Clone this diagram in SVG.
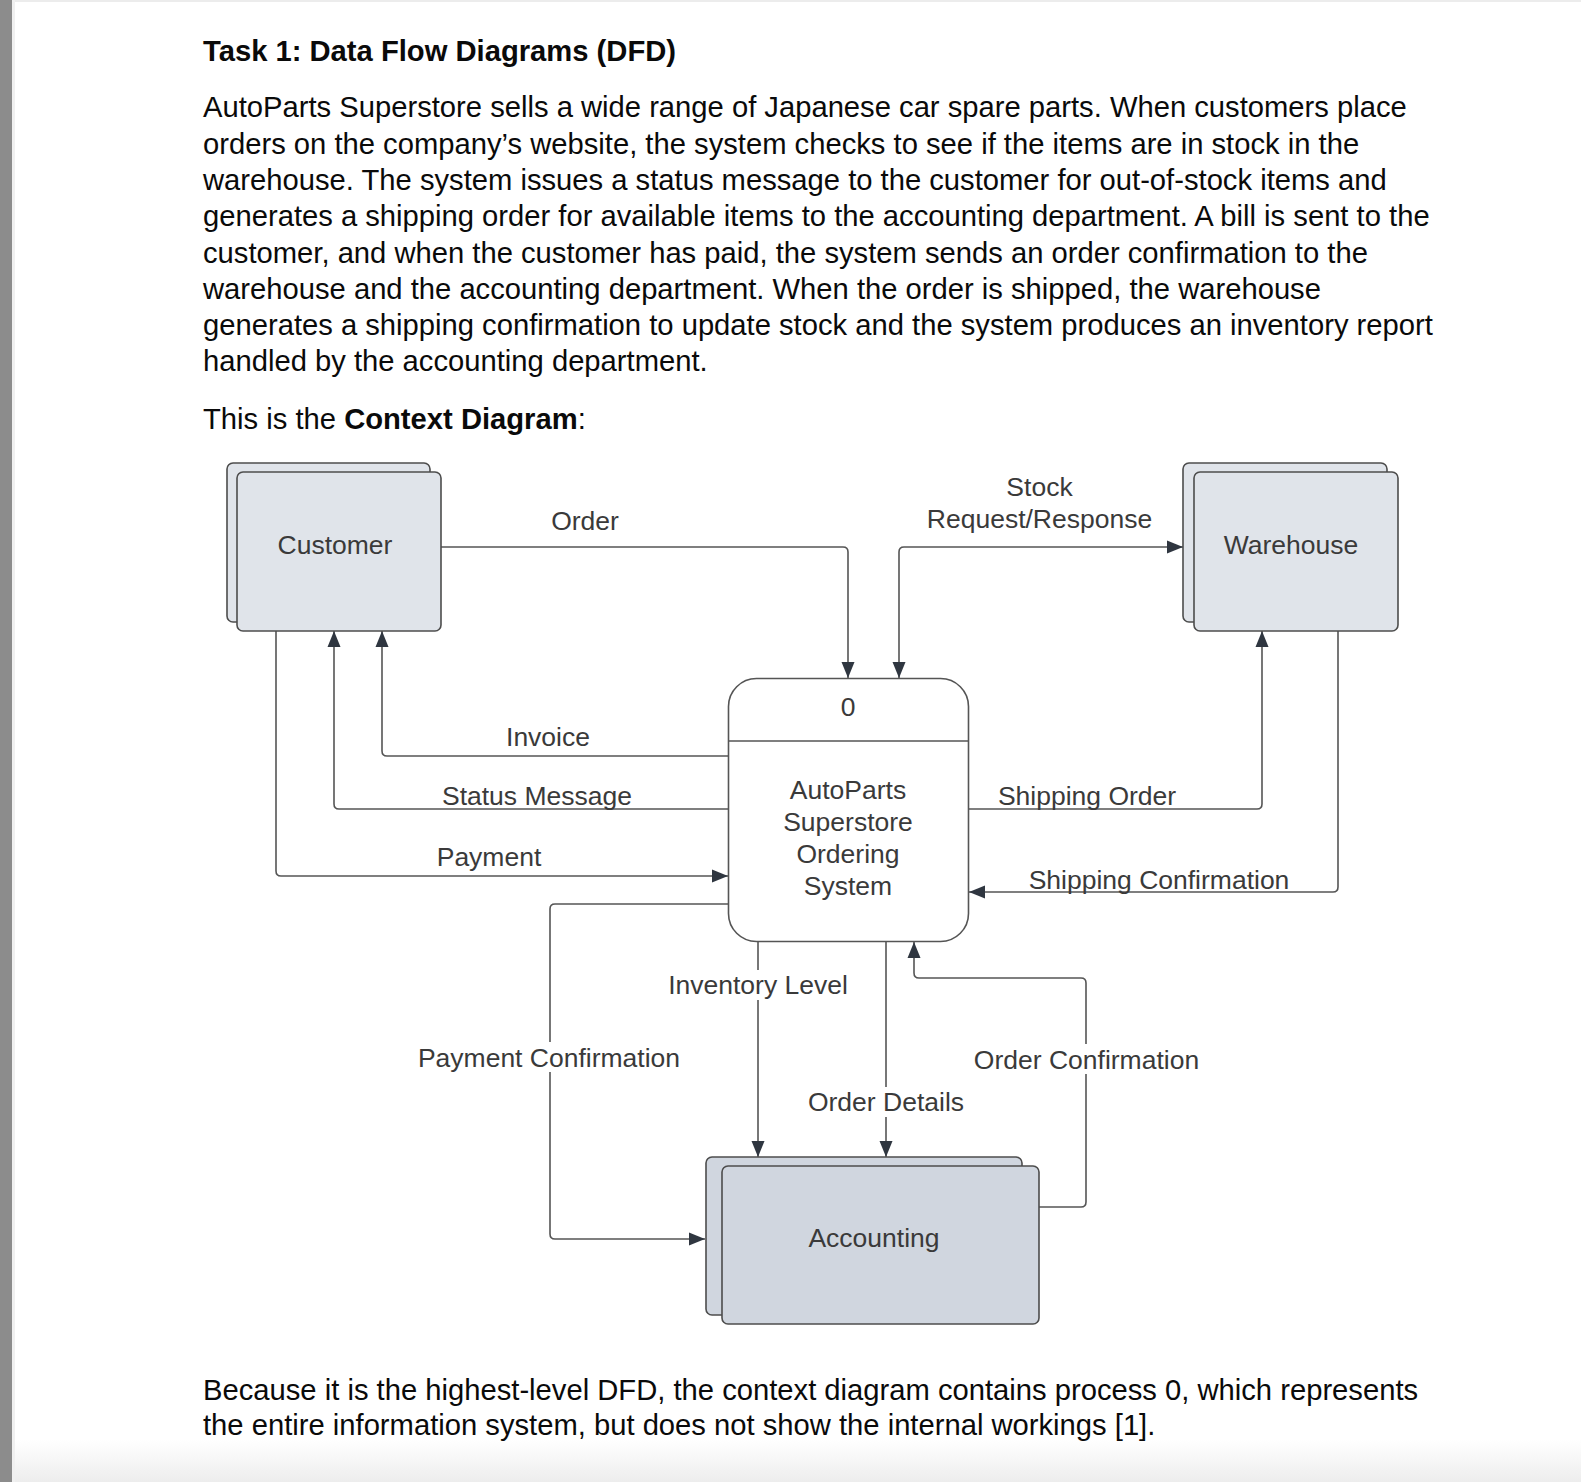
<svg xmlns="http://www.w3.org/2000/svg" width="1581" height="1482" viewBox="0 0 1581 1482">
<style>
.doc{font-family:"Liberation Sans",Arial,Helvetica,sans-serif;font-size:29.2px;fill:#0a0a0a}
.b{font-weight:bold}
.lbl{font-family:"Liberation Sans",Arial,Helvetica,sans-serif;font-size:26.5px;fill:#3a3a3a;text-anchor:middle}
.ent{fill:#e0e4ea;stroke:#4d4d4d;stroke-width:1.6}
.acc{fill:#d0d6df;stroke:#4d4d4d;stroke-width:1.6}
.proc{fill:#ffffff;stroke:#555;stroke-width:1.6}
.flow{fill:none;stroke:#555;stroke-width:1.6}
.arr{marker-end:url(#ah)}
.gap{fill:#fff}
</style>
<defs>
<marker id="ah" markerUnits="userSpaceOnUse" markerWidth="17" markerHeight="14" refX="16" refY="7" orient="auto-start-reverse" viewBox="0 0 17 14">
<path d="M0,0.5 L16,7 L0,13.5 z" fill="#2f3640"/>
</marker>
<linearGradient id="bot" x1="0" y1="0" x2="0" y2="1">
<stop offset="0" stop-color="#ffffff"/>
<stop offset="1" stop-color="#ededed"/>
</linearGradient>
</defs>
<rect width="1581" height="1482" fill="#ffffff"/>
<rect x="0" y="1440" width="1581" height="42" fill="url(#bot)"/>
<rect x="0" y="0" width="1581" height="2" fill="#ececec"/>
<rect x="12" y="0" width="3" height="1482" fill="#f0f0f0"/>
<rect x="0" y="0" width="12" height="1482" fill="#8c8c8c"/>

<g id="document-text" class="doc">
<text x="203" y="61" class="b">Task 1: Data Flow Diagrams (DFD)</text>
<text x="203" y="117.3">AutoParts Superstore sells a wide range of Japanese car spare parts. When customers place</text>
<text x="203" y="153.6">orders on the company’s website, the system checks to see if the items are in stock in the</text>
<text x="203" y="189.9">warehouse. The system issues a status message to the customer for out-of-stock items and</text>
<text x="203" y="226.2">generates a shipping order for available items to the accounting department. A bill is sent to the</text>
<text x="203" y="262.5">customer, and when the customer has paid, the system sends an order confirmation to the</text>
<text x="203" y="298.8">warehouse and the accounting department. When the order is shipped, the warehouse</text>
<text x="203" y="335.1">generates a shipping confirmation to update stock and the system produces an inventory report</text>
<text x="203" y="371.4">handled by the accounting department.</text>
<text x="203" y="428.8">This is the <tspan class="b">Context Diagram</tspan>:</text>
<text x="203" y="1399.8">Because it is the highest-level DFD, the context diagram contains process 0, which represents</text>
<text x="203" y="1435.1">the entire information system, but does not show the internal workings [1].</text>
</g>

<g id="connectors">
<path id="f-order" class="flow arr" d="M441,547 H843 Q848,547 848,552 V678"/>
<path id="f-stock" class="flow arr" style="marker-start:url(#ah)" d="M899,678 V552 Q899,547 904,547 H1183"/>
<path id="f-invoice" class="flow arr" d="M728,756 H387 Q382,756 382,751 V631"/>
<path id="f-status" class="flow arr" d="M728,809 H339 Q334,809 334,804 V631"/>
<path id="f-payment" class="flow arr" d="M276,631 V871 Q276,876 281,876 H728"/>
<path id="f-payconf" class="flow arr" d="M728,904 H555 Q550,904 550,909 V1234 Q550,1239 555,1239 H705"/>
<path id="f-invlevel" class="flow arr" d="M758,942 V1157"/>
<path id="f-orderdetails" class="flow arr" d="M886,942 V1157"/>
<path id="f-orderconf" class="flow arr" d="M1039,1207 H1081 Q1086,1207 1086,1202 V983 Q1086,978 1081,978 H919 Q914,978 914,973 V942"/>
<path id="f-shiporder" class="flow arr" d="M968,809 H1257 Q1262,809 1262,804 V631"/>
<path id="f-shipconf" class="flow arr" d="M1338,631 V887 Q1338,892 1333,892 H969"/>

<rect class="gap" x="685" y="970" width="146" height="30"/>
<rect class="gap" x="418" y="1042" width="263" height="30"/>
<rect class="gap" x="810" y="1087" width="152" height="30"/>
<rect class="gap" x="972" y="1044" width="229" height="30"/>

<g class="lbl">
<text x="585" y="529.5">Order</text>
<text x="1039.5" y="495.5">Stock</text>
<text x="1039.5" y="527.5">Request/Response</text>
<text x="548" y="745.5">Invoice</text>
<text x="537" y="804.5">Status Message</text>
<text x="489" y="865.5">Payment</text>
<text x="1087" y="804.5">Shipping Order</text>
<text x="1159" y="888.5">Shipping Confirmation</text>
<text x="758" y="994">Inventory Level</text>
<text x="549" y="1066.5">Payment Confirmation</text>
<text x="886" y="1110.5">Order Details</text>
<text x="1086.5" y="1068.5">Order Confirmation</text>
</g>
</g>

<g id="customer">
<rect class="ent" x="227" y="463" width="203" height="159" rx="6"/>
<rect class="ent" x="237" y="472" width="204" height="159" rx="6"/>
<text class="lbl" x="335" y="553.5">Customer</text>
</g>

<g id="warehouse">
<rect class="ent" x="1183" y="463" width="204" height="159" rx="6"/>
<rect class="ent" x="1194" y="472" width="204" height="159" rx="6"/>
<text class="lbl" x="1291" y="553.5">Warehouse</text>
</g>

<g id="process-0">
<rect class="proc" x="728.5" y="678.5" width="240" height="263" rx="28"/>
<line x1="728.5" y1="741" x2="968.5" y2="741" stroke="#555" stroke-width="1.6"/>
<text class="lbl" x="848" y="715.5">0</text>
<text class="lbl" x="848" y="799">AutoParts</text>
<text class="lbl" x="848" y="831">Superstore</text>
<text class="lbl" x="848" y="863">Ordering</text>
<text class="lbl" x="848" y="895">System</text>
</g>

<g id="accounting">
<rect class="acc" x="706" y="1157" width="316" height="158" rx="6"/>
<rect class="acc" x="722" y="1166" width="317" height="158" rx="6"/>
<text class="lbl" x="874" y="1246.5">Accounting</text>
</g>
</svg>
